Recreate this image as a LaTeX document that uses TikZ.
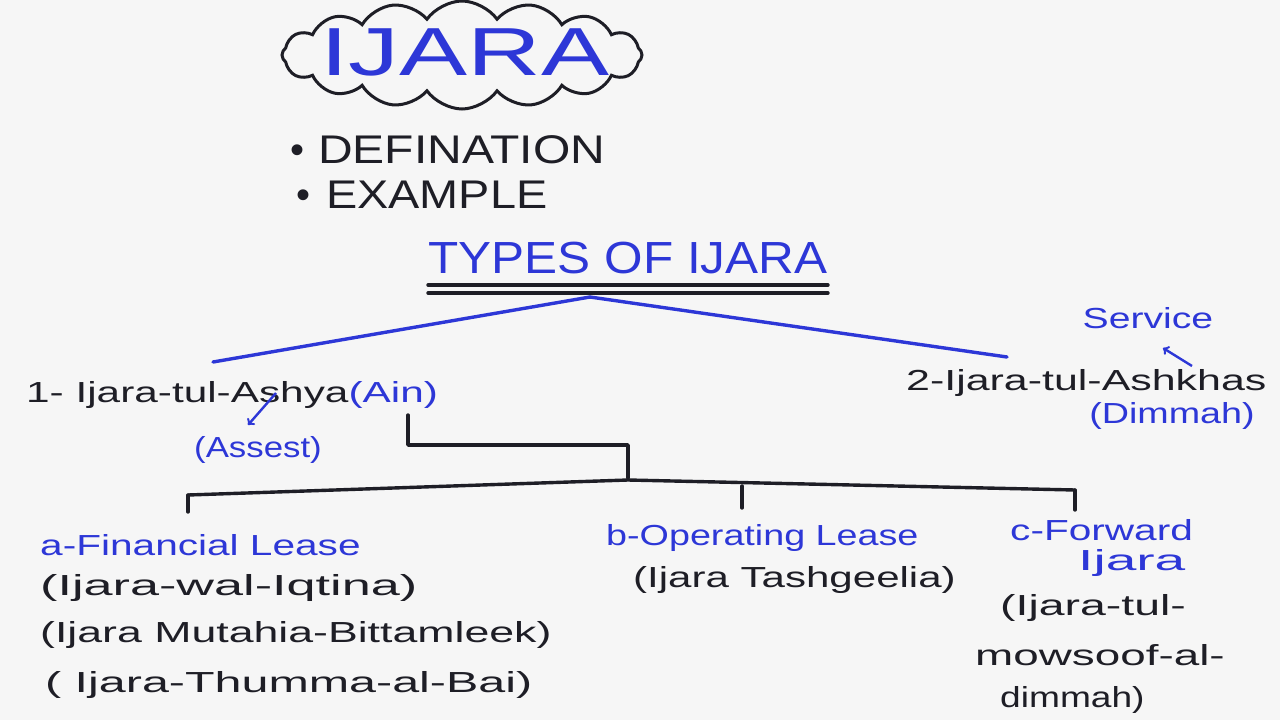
\documentclass[tikz,border=0pt]{standalone}
\usepackage{fontspec}
\setmainfont{Liberation Sans}
\usetikzlibrary{shapes.symbols}
\definecolor{pen}{RGB}{45,55,215}
\definecolor{ink}{RGB}{30,30,38}
\definecolor{paper}{RGB}{246,246,246}
\newcommand\sx[2]{\scalebox{#1}[1]{#2}}
\tikzset{
 bl/.style={text=pen,inner sep=0pt},
 bk/.style={text=ink,inner sep=0pt},
 hand/.style={line width=3.4pt,line cap=round,line join=round},
 f30/.style={font=\fontsize{29}{32}\selectfont},
}
\begin{document}
\begin{tikzpicture}[x=1pt,y=-1pt]
\fill[paper] (0,0) rectangle (1280,720);
\useasboundingbox (0,0) rectangle (1280,720);
% title cloud
\node[cloud,cloud puffs=16,cloud puff arc=110,aspect=3.6,draw=ink,line width=3pt,minimum width=360pt,minimum height=108pt] (cl) at (462,55) {};
\node[bl,font=\fontsize{68}{70}\selectfont] (t) at (465,52) {\sx{1.5}{IJARA}};
\node[bk,font=\fontsize{40}{42}\selectfont,anchor=west] (d1) at (290,150) {•\hspace{14pt}\sx{1.2}{DEFINATION}};
\node[bk,font=\fontsize{40}{42}\selectfont,anchor=west] (d2) at (296,195) {•\hspace{16pt}\sx{1.17}{EXAMPLE}};
\node[bl,font=\fontsize{45}{47}\selectfont] (ty) at (628,258) {\sx{1.1}{TYPES OF IJARA}};
\draw[ink,hand] (428,285) -- (828,285);
\draw[ink,hand] (428,293) -- (828,293);
\coordinate (top) at (590,297);
\coordinate (lt) at (213,362);
\coordinate (rt) at (1007,357);
\draw[pen,hand] (top) -- (lt);
\draw[pen,hand] (top) -- (rt);
% type 1
\node[bk,f30,anchor=west] (one) at (26,395) {\sx{1.46}{1- Ijara-tul-Ashya\textcolor{pen}{(Ain)}}};
\node[bl,f30] (as) at (258,450) {\sx{1.2}{(Assest)}};
\coordinate (ash) at (276,393);
\draw[pen,line width=2.4pt,->] (ash) -- (248,425);
% type 2
\node[bk,f30,anchor=west] (two) at (906,383) {\sx{1.48}{2-Ijara-tul-Ashkhas}};
\node[bl,f30] (dim) at (1172,416) {\sx{1.3}{(Dimmah)}};
\node[bl,f30] (ser) at (1148,318) {\sx{1.35}{Service}};
\coordinate (sa) at (1192,366);
\draw[pen,line width=2.4pt,->] (sa) -- (1163,348);
% tree
\coordinate (a0) at (408,415);
\coordinate (j) at (628,478);
\draw[ink,hand] (a0) -- (408,445) -- (628,445) -- (j);
\coordinate (hl) at (188,495);
\coordinate (hr) at (1075,490);
\draw[ink,hand] (hl) -- (628,480) -- (hr);
\draw[ink,hand] (hl) -- (188,512);
\draw[ink,hand] (742,486) -- (742,508);
\draw[ink,hand] (hr) -- (1075,510);
% a
\node[bl,f30,anchor=west] (a) at (40,545) {\sx{1.4}{a-Financial Lease}};
\node[bk,f30,anchor=west] (a1) at (40,588) {\sx{1.8}{(Ijara-wal-Iqtina)}};
\node[bk,f30,anchor=west] (a2) at (40,635) {\sx{1.54}{(Ijara Mutahia-Bittamleek)}};
\node[bk,f30,anchor=west] (a3) at (45,685) {\sx{1.67}{( Ijara-Thumma-al-Bai)}};
% b
\node[bl,f30,anchor=west] (b) at (606,538) {\sx{1.3}{b-Operating Lease}};
\node[bk,f30,anchor=west] (b1) at (633,580) {\sx{1.45}{(Ijara Tashgeelia)}};
% c
\node[bl,f30,anchor=west] (c) at (1010,530) {\sx{1.4}{c-Forward}};
\node[bl,f30,anchor=west] (c0) at (1078,563) {\sx{1.9}{Ijara}};
\node[bk,f30,anchor=west] (c1) at (1000,608) {\sx{1.6}{(Ijara-tul-}};
\node[bk,f30,anchor=west] (c2) at (975,655) {\sx{1.58}{mowsoof-al-}};
\node[bk,f30,anchor=west] (c3) at (1000,700) {\sx{1.28}{dimmah)}};
\end{tikzpicture}
\end{document}
